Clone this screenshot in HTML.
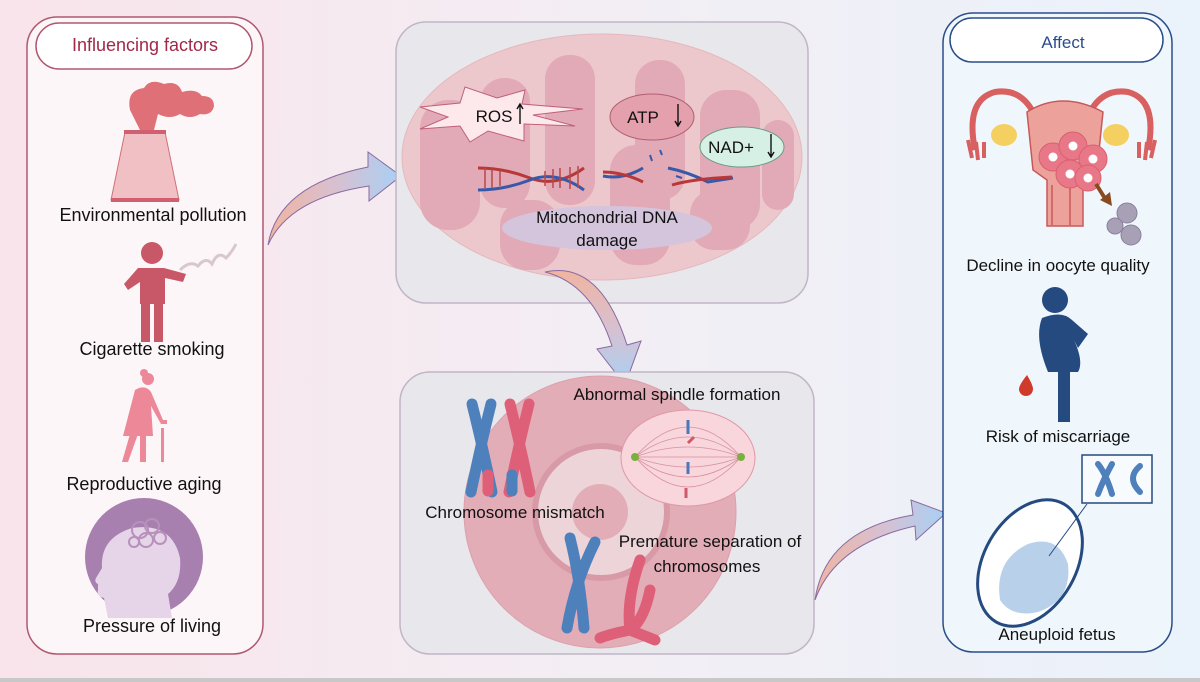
<!DOCTYPE html>
<html><head><meta charset="utf-8"><style>
html,body{margin:0;padding:0;width:1200px;height:682px;overflow:hidden}
svg{display:block}
text{font-family:"Liberation Sans",Arial,sans-serif}
</style></head><body>
<svg width="1200" height="682" viewBox="0 0 1200 682" xmlns="http://www.w3.org/2000/svg">
<defs>
<linearGradient id="bg" x1="0" x2="1" y1="0" y2="0">
<stop offset="0" stop-color="#f8e4ea"/><stop offset="0.5" stop-color="#f3eef4"/><stop offset="1" stop-color="#eaf2fb"/></linearGradient>
<linearGradient id="arr" x1="0" x2="1" y1="0" y2="0">
<stop offset="0" stop-color="#f0b4a0"/><stop offset="0.5" stop-color="#d8c0d0"/><stop offset="1" stop-color="#a8d0f4"/></linearGradient>
<linearGradient id="arr2" x1="0" x2="0" y1="0" y2="1">
<stop offset="0" stop-color="#f0b4a0"/><stop offset="0.5" stop-color="#d8c0d0"/><stop offset="1" stop-color="#a8d0f4"/></linearGradient>
</defs>
<rect width="1200" height="682" fill="url(#bg)"/>
<rect x="0" y="678" width="1200" height="4" fill="#c8c8c8"/>

<!-- Left panel -->
<rect x="27" y="17" width="236" height="637" rx="30" fill="#fdf6f8" stroke="#b05870" stroke-width="1.5"/>
<rect x="36" y="23" width="216" height="46" rx="23" fill="#fff" stroke="#b05870" stroke-width="1.5"/>
<text x="145" y="51" font-size="18" fill="#a02848" text-anchor="middle">Influencing factors</text>
<path d="M130 110 q-4-20 14-22 q6-10 20-4 q14-4 18 8 q14-4 20 4 q12 0 12 10 q-2 10-14 8 q-10 6-20 0 q-10 6-22 0 l-4 16 h-14 z" fill="#e07078"/>
<path d="M125 132 h40 l14 68 h-68 z" fill="#f0c0c4" stroke="#d07078"/>
<rect x="124" y="130" width="42" height="4" fill="#d06070"/>
<rect x="111" y="198" width="68" height="4" fill="#d06070"/>
<text x="153" y="221" font-size="18" fill="#111" text-anchor="middle">Environmental pollution</text>
<circle cx="152" cy="253" r="11" fill="#c85868"/>
<path d="M138 268 h26 l22 6 l-3 8 l-18-4 v26 h-25 v-22 l-12 8 l-4-6 z" fill="#c85868"/>
<rect x="141" y="300" width="9" height="42" fill="#c85868"/><rect x="154" y="300" width="9" height="42" fill="#c85868"/>
<path d="M180 270 q10-10 18-4 q8-10 14-2 q6-14 14-6 q6-6 10-14" fill="none" stroke="#d8c8cc" stroke-width="3"/>
<text x="152" y="355" font-size="18" fill="#111" text-anchor="middle">Cigarette smoking</text>
<circle cx="148" cy="379" r="6" fill="#ec8898"/><circle cx="144" cy="373" r="4" fill="#ec8898"/>
<path d="M135 390 q10-6 16 2 l12 28 l4 0 v4 l-6 0 l-10-18 l2 30 h-30 z" fill="#ec8898"/>
<path d="M130 434 l-8 28 h6 l10-28 z M140 434 v28 h6 v-28 z" fill="#ec8898"/>
<rect x="161" y="428" width="3" height="34" fill="#ec8898"/>
<text x="144" y="490" font-size="18" fill="#111" text-anchor="middle">Reproductive aging</text>
<circle cx="144" cy="557" r="59" fill="#a880b0"/>
<path d="M108 618 l-4-20 q-8-2-6-8 l0-6 q-4-2-2-6 l6-10 q-2-30 30-40 q40-6 48 30 q2 24-12 36 l4 24 z" fill="#e6d4e8"/>
<g fill="none" stroke="#b890bc" stroke-width="2"><circle cx="140" cy="530" r="8"/><circle cx="152" cy="526" r="7"/><circle cx="146" cy="540" r="7"/><circle cx="160" cy="538" r="6"/><circle cx="134" cy="542" r="5"/></g>
<text x="152" y="632" font-size="18" fill="#111" text-anchor="middle">Pressure of living</text>

<path d="M268 245 q10-60 100-78 l0-15 l33 24 l-32 25 l0-15 q-80 12-101 59 z" fill="url(#arr)" stroke="#8a6aa0" stroke-width="1"/>

<!-- Top middle panel -->
<rect x="396" y="22" width="412" height="281" rx="30" fill="#e8e7ec" stroke="#c0b6c6" stroke-width="1.5"/>
<ellipse cx="602" cy="157" rx="200" ry="123" fill="#ecc8cc" stroke="#e4b8bc"/>
<g fill="#e2aab6">
<rect x="420" y="100" width="60" height="130" rx="28"/>
<rect x="480" y="78" width="50" height="130" rx="24"/>
<rect x="545" y="55" width="50" height="150" rx="24"/>
<rect x="500" y="200" width="60" height="70" rx="26"/>
<rect x="610" y="145" width="60" height="120" rx="26"/>
<rect x="635" y="60" width="50" height="140" rx="24"/>
<rect x="700" y="90" width="60" height="140" rx="26"/>
<rect x="690" y="190" width="60" height="60" rx="24"/>
<rect x="762" y="120" width="32" height="90" rx="16"/>
</g>
<polygon points="420,107 460,103 465,87 497,98 525,90 522,104 583,109 533,115 575,126 524,124 524,141 488,131 470,142 460,126 420,129 448,117" fill="#fde8ec" stroke="#c06078"/>
<text x="494" y="122" font-size="17" fill="#111" text-anchor="middle">ROS</text>
<path d="M520 124 v-19 m-3 4 l3-5 l3 5" stroke="#111" fill="none" stroke-width="1.4"/>
<ellipse cx="652" cy="117" rx="42" ry="23" fill="#e4a0ac" stroke="#b06070"/>
<text x="643" y="123" font-size="17" fill="#111" text-anchor="middle">ATP</text>
<path d="M678 104 v21 m-3-4 l3 5 l3-5" stroke="#111" fill="none" stroke-width="1.4"/>
<ellipse cx="742" cy="147" rx="42" ry="20" fill="#d6f0e6" stroke="#6a9a88"/>
<text x="731" y="153" font-size="17" fill="#111" text-anchor="middle">NAD+</text>
<path d="M771 134 v22 m-3-4 l3 5 l3-5" stroke="#111" fill="none" stroke-width="1.4"/>
<g stroke-width="3" fill="none">
<path d="M478 168 q26 0 52 10 t54-10" stroke="#b83838"/>
<path d="M478 190 q26 0 52-10 t54 10" stroke="#3858a8"/>
<g stroke="#b84848" stroke-width="1.5"><path d="M485 168v20M492 169v19M500 171v15M545 171v15M553 169v19M560 168v20M570 167v22M578 166v22"/></g>
<path d="M603 176 q20 4 40-8" stroke="#3858a8"/><path d="M603 172 q20 0 40 10" stroke="#b83838"/>
<path d="M668 168 q20 4 40 14 l25-4" stroke="#3858a8"/><path d="M672 185 q20-6 60-8" stroke="#b83838"/>
<path d="M650 155l2 6M660 150l2 5M676 176l6 2" stroke="#3858a8" stroke-width="2"/>
</g>
<ellipse cx="607" cy="228" rx="105" ry="22" fill="#d4c4dc"/>
<text x="607" y="223" font-size="17" fill="#111" text-anchor="middle">Mitochondrial DNA</text>
<text x="607" y="246" font-size="17" fill="#111" text-anchor="middle">damage</text>

<path d="M545 272 q55-12 82 73 l14-4 l-16 44 l-28-36 l15-3 q-20-62-67-74 z" fill="url(#arr2)" stroke="#8a6aa0" stroke-width="1"/>

<!-- Bottom middle panel -->
<rect x="400" y="372" width="414" height="282" rx="30" fill="#e8e7ec" stroke="#c0b6c6" stroke-width="1.5"/>
<circle cx="600" cy="512" r="136" fill="#e2adb6" stroke="#dca0ac"/>
<circle cx="601" cy="512" r="66" fill="#ecd4d8" stroke="#d89aa6" stroke-width="6"/>
<circle cx="600" cy="512" r="28" fill="#e2adb6"/>
<ellipse cx="688" cy="458" rx="67" ry="48" fill="#f8d6dc" stroke="#e098a8"/>
<g fill="none" stroke="#d890a0" stroke-width="0.8">
<path d="M635 457 q53-60 106 0 M635 457 q53-40 106 0 M635 457 q53-20 106 0 M635 457 h106 M635 457 q53 20 106 0 M635 457 q53 40 106 0 M635 457 q53 60 106 0"/></g>
<circle cx="635" cy="457" r="4" fill="#7ab040"/><circle cx="741" cy="457" r="4" fill="#7ab040"/>
<g stroke-width="3"><path d="M688 420v14M688 462v12" stroke="#4a78b8"/><path d="M688 443l6-6M686 488v10" stroke="#d05868"/></g>
<g stroke-linecap="round" stroke-width="11" fill="none">
<path d="M472 404 q10 40 20 88 M491 404 q-10 40-20 88" stroke="#4e80bc"/>
<path d="M510 404 q10 40 20 88 M529 404 q-10 40-20 88" stroke="#de6078"/>
<path d="M488 475 v16" stroke="#de6078"/><path d="M512 475 v16" stroke="#4e80bc"/>
<path d="M570 538 q10 40 14 90 M595 542 q-20 40-28 86" stroke="#4e80bc"/>
<path d="M640 560 q-14 40-10 70 q-20 4-30 8 M650 590 q-6 30-20 40 q10 4 25 10" stroke="#de6078"/>
</g>
<text x="677" y="400" font-size="17" fill="#111" text-anchor="middle">Abnormal spindle formation</text>
<text x="515" y="518" font-size="17" fill="#111" text-anchor="middle">Chromosome mismatch</text>
<text x="710" y="547" font-size="17" fill="#111" text-anchor="middle">Premature separation of</text>
<text x="707" y="572" font-size="17" fill="#111" text-anchor="middle">chromosomes</text>

<path d="M815 600 q10-70 98-85 l-2-15 l35 13 l-30 27 l-1-14 q-80 18-100 74 z" fill="url(#arr)" stroke="#8a6aa0" stroke-width="1"/>

<!-- Right panel -->
<rect x="943" y="13" width="229" height="639" rx="30" fill="#f0f7fc" stroke="#2a4e8a" stroke-width="1.5"/>
<rect x="950" y="18" width="213" height="44" rx="22" fill="#fff" stroke="#2a4e8a" stroke-width="1.5"/>
<text x="1063" y="48" font-size="17" fill="#2a4e8a" text-anchor="middle">Affect</text>
<!-- uterus -->
<path d="M975 150 q-10-50 20-58 q25-4 38 20" fill="none" stroke="#d86060" stroke-width="6"/>
<path d="M1148 150 q10-50-20-58 q-25-4-38 20" fill="none" stroke="#d86060" stroke-width="6"/>
<path d="M968 140 l4 18 M976 142 l2 18 M984 142 l0 16 M1155 140 l-4 18 M1147 142 l-2 18 M1139 142 l0 16" stroke="#d86060" stroke-width="4"/>
<path d="M1027 112 q35-22 76 0 l-6 58 l-14 10 v46 h-36 v-46 l-14-10 z" fill="#eca29a" stroke="#c85858" stroke-width="1.5"/>
<path d="M1052 185 v40 M1070 185 v40" stroke="#c85858" stroke-width="1.5"/>
<ellipse cx="1004" cy="135" rx="13" ry="11" fill="#f4d060"/><ellipse cx="1116" cy="135" rx="13" ry="11" fill="#f4d060"/>
<g fill="#e87888" stroke="#d86070"><circle cx="1053" cy="157" r="14"/><circle cx="1073" cy="146" r="14"/><circle cx="1093" cy="159" r="14"/><circle cx="1070" cy="174" r="14"/><circle cx="1088" cy="178" r="13"/></g>
<g fill="#fff"><circle cx="1053" cy="157" r="4.5"/><circle cx="1073" cy="146" r="4.5"/><circle cx="1093" cy="159" r="4.5"/><circle cx="1070" cy="174" r="4.5"/><circle cx="1088" cy="178" r="4.5"/></g>
<path d="M1096 184 l10 16" stroke="#8a4a20" stroke-width="4"/><path d="M1100 200 l12 6 l-2-14 z" fill="#8a4a20"/>
<g fill="#a8a0b4" stroke="#8a80a0"><circle cx="1127" cy="213" r="10"/><circle cx="1115" cy="226" r="8"/><circle cx="1131" cy="235" r="10"/></g>
<text x="1058" y="271" font-size="17" fill="#111" text-anchor="middle">Decline in oocyte quality</text>
<!-- pregnant -->
<circle cx="1055" cy="300" r="13" fill="#244a80"/>
<path d="M1042 318 q20-8 30 2 l16 14 l-10 14 l-4-8 q10 22 4 32 h-8 v50 h-12 v-50 h-10 q-14-34-6-54 z" fill="#244a80"/>
<path d="M1027 375 q-8 10-8 14 a7 7 0 0 0 14 0 q0-4-6-14z" fill="#d03a2a"/>
<text x="1058" y="442" font-size="17" fill="#111" text-anchor="middle">Risk of miscarriage</text>
<!-- fetus -->
<rect x="1082" y="455" width="70" height="48" fill="#f8fbfe" stroke="#244a80" stroke-width="1.5"/>
<path d="M1098 464 q8 10 14 30 M1112 464 q-8 14-14 30" stroke="#4e80bc" stroke-width="6" fill="none" stroke-linecap="round"/>
<path d="M1140 466 q-14 12 0 26" stroke="#4e80bc" stroke-width="6" fill="none" stroke-linecap="round"/>
<ellipse cx="1030" cy="563" rx="46" ry="68" transform="rotate(30 1030 563)" fill="#fff" stroke="#244a80" stroke-width="3"/>
<path d="M1000 600 q-6-40 28-56 q30-10 40 20 q4 36-30 48 q-26 6-38-12 z" fill="#b8d0ea"/>
<path d="M1087 504 l-38 52" stroke="#244a80" stroke-width="1"/>
<text x="1057" y="640" font-size="17" fill="#111" text-anchor="middle">Aneuploid fetus</text>
</svg>
</body></html>
